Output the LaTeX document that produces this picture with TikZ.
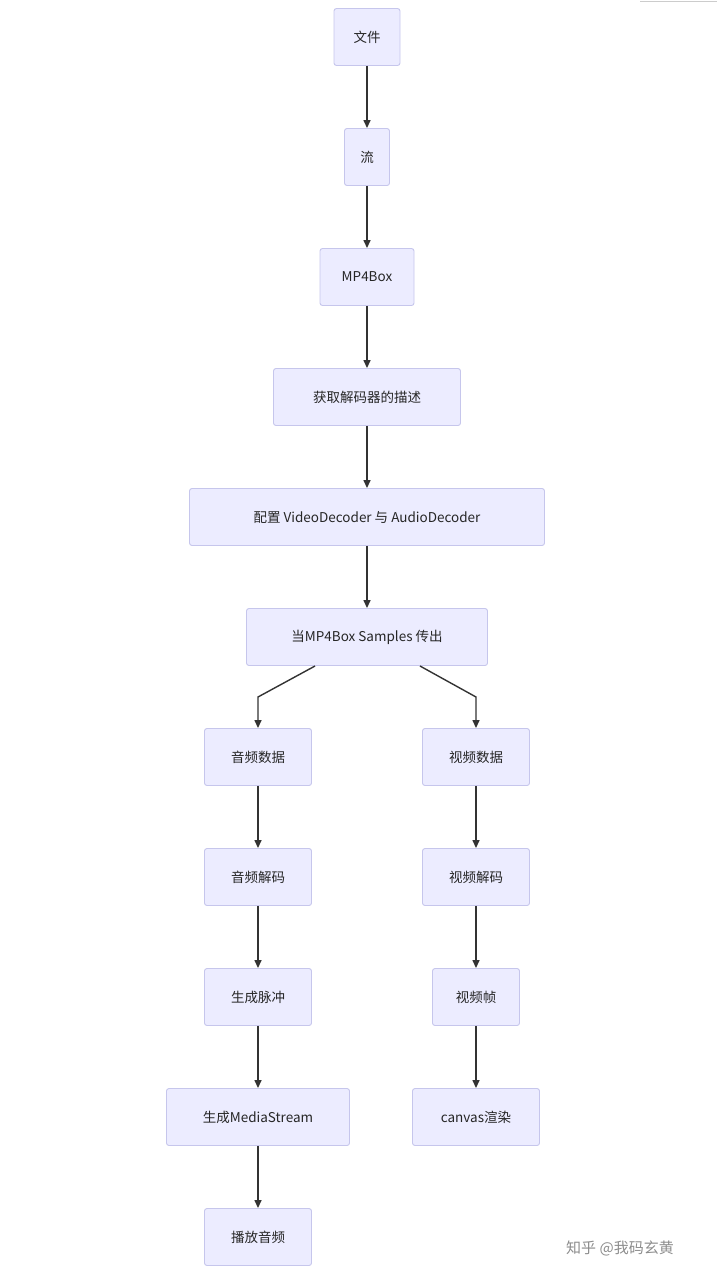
\documentclass[tikz,border=0pt]{standalone}
\usepackage{fontspec}
\setmainfont{Noto Sans CJK SC}
\usetikzlibrary{arrows.meta}
\definecolor{nfill}{HTML}{ECECFF}
\definecolor{nline}{HTML}{C6C6EC}
\begin{document}
\begin{tikzpicture}[x=1pt,y=-1pt,
  box/.style={draw=nline,fill=nfill,line width=0.9pt,rounded corners=2.5pt,minimum height=57pt,inner sep=0pt,font=\fontsize{13.5}{15}\selectfont,text=black!85},
  arr/.style={draw=black!80,line width=1.4pt,-{Triangle[length=8pt,width=7pt]}}]
\useasboundingbox (0,0) rectangle (717,1280);
\draw[gray!40,line width=1pt] (640,1) -- (717,1);
\node[box,minimum width=66pt] (a) at (367,37) {文件};
\node[box,minimum width=45pt] (b) at (367,157) {流};
\node[box,minimum width=94pt] (c) at (367,277) {MP4Box};
\node[box,minimum width=187pt] (d) at (367,397) {获取解码器的描述};
\node[box,minimum width=355pt] (e) at (367,517) {配置 VideoDecoder 与 AudioDecoder};
\node[box,minimum width=241pt] (f) at (367,637) {当MP4Box Samples 传出};
\node[box,minimum width=107pt] (g1) at (258,757) {音频数据};
\node[box,minimum width=107pt] (h1) at (476,757) {视频数据};
\node[box,minimum width=107pt] (g2) at (258,877) {音频解码};
\node[box,minimum width=107pt] (h2) at (476,877) {视频解码};
\node[box,minimum width=107pt] (g3) at (258,997) {生成脉冲};
\node[box,minimum width=87pt] (h3) at (476,997) {视频帧};
\node[box,minimum width=183pt] (g4) at (258,1117) {生成MediaStream};
\node[box,minimum width=127pt] (h4) at (476,1117) {canvas渲染};
\node[box,minimum width=107pt] (g5) at (258,1237) {播放音频};
\node[text=black!45,font=\fontsize{15}{17}\selectfont] (wm) at (620,1248) {知乎 @我码玄黄};
\draw[arr] (a) -- (b);
\draw[arr] (b) -- (c);
\draw[arr] (c) -- (d);
\draw[arr] (d) -- (e);
\draw[arr] (e) -- (f);
\coordinate (fl) at (315,666);
\coordinate (fr) at (420,666);
\draw[arr] (fl) -- (258,697) -- (g1.north);
\draw[arr] (fr) -- (476,697) -- (h1.north);
\draw[arr] (g1) -- (g2);
\draw[arr] (g2) -- (g3);
\draw[arr] (g3) -- (g4);
\draw[arr] (g4) -- (g5);
\draw[arr] (h1) -- (h2);
\draw[arr] (h2) -- (h3);
\draw[arr] (h3) -- (h4);
\end{tikzpicture}
\end{document}
